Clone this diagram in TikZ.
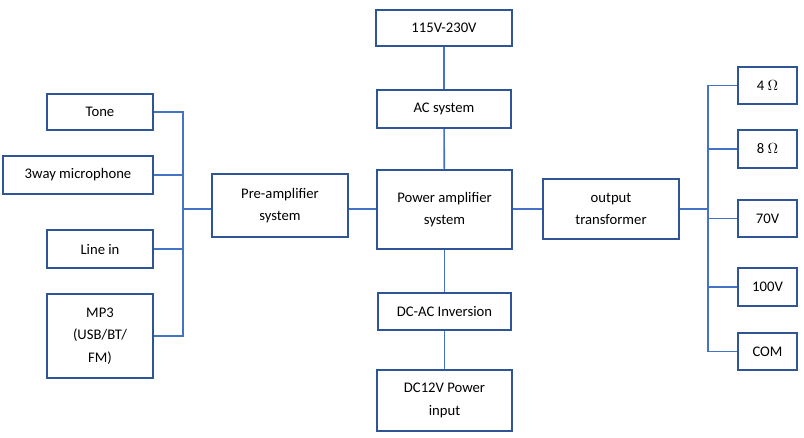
\documentclass[tikz,border=0pt]{standalone}
\usepackage{fontspec}
\setmainfont{Carlito}
\definecolor{boxblue}{RGB}{47,85,151}
\definecolor{wireblue}{RGB}{68,114,196}
\tikzset{
  blk/.style = {
    draw = boxblue,
    line width = 1.5pt,
    inner sep = 2pt,
    align = center,
    font = \fontsize{11}{17}\selectfont
  },
  wire/.style = {
    draw = wireblue,
    line width = 1.2pt
  }
}
\newcommand{\blkat}[7]{% name, x1, y1, x2, y2, text
  \node [blk, minimum width=#4*0.75pt-#2*0.75pt, minimum height=#5*0.75pt-#3*0.75pt]
    (#1) at ({(#2+#4)/2},{(#3+#5)/2}) {#6#7};
}
\begin{document}
\begin{tikzpicture}[x=0.75pt, y=-0.75pt]
  \useasboundingbox (0,0) rectangle (804,437);
  % centre column
  \blkat{mains}{376}{10}{512}{46}{115V-230V}{}
  \blkat{acsys}{377}{90}{511}{128}{AC system}{}
  \blkat{poweramp}{377}{170}{512}{249}{Power amplifier\\system}{}
  \blkat{inversion}{378}{293}{511}{330}{DC-AC Inversion}{}
  \blkat{dcin}{377}{370}{512}{431}{DC12V Power\\input}{}
  % stages
  \blkat{preamp}{212}{174}{348}{237}{Pre-amplifier\\system}{}
  \blkat{outtrans}{543}{179}{679}{239}{output\\transformer}{}
  % inputs
  \blkat{tone}{47}{94}{153}{130}{Tone}{}
  \blkat{mic}{3}{156}{153}{194}{3way microphone}{}
  \blkat{linein}{47}{230}{153}{268}{Line in}{}
  \blkat{mpthree}{47}{294}{153}{378}{MP3\\(USB/BT/\\FM)}{}
  % outputs
  \blkat{ohmfour}{738}{67}{797}{104}{4 $\Omega$}{}
  \blkat{ohmeight}{738}{130}{797}{168}{8 $\Omega$}{}
  \blkat{vseventy}{738}{200}{797}{237}{70V}{}
  \blkat{vhundred}{738}{268}{797}{306}{100V}{}
  \blkat{common}{738}{333}{797}{370}{COM}{}
  % connectors
  \draw [wire] (mains) -- (acsys);
  \draw [wire] (acsys) -- (poweramp);
  \draw [wire] (poweramp) -- (inversion);
  \draw [wire] (inversion) -- (dcin);
  \coordinate (inbus) at (183,209);
  \coordinate (outbus) at (708,209);
  \foreach \src in {tone, mic, linein, mpthree}
    \draw [wire] (\src.east) -- (\src.east -| inbus) -- (inbus);
  \draw [wire] (inbus) -- (inbus -| preamp.west);
  \draw [wire] (preamp.east |- inbus) -- (inbus -| poweramp.west);
  \draw [wire] (poweramp.east |- inbus) -- (inbus -| outtrans.west);
  \draw [wire] (outtrans.east |- outbus) -- (outbus);
  \foreach \dst in {ohmfour, ohmeight, vseventy, vhundred, common}
    \draw [wire] (outbus) -- (outbus |- \dst.west) -- (\dst.west);
\end{tikzpicture}
\end{document}
